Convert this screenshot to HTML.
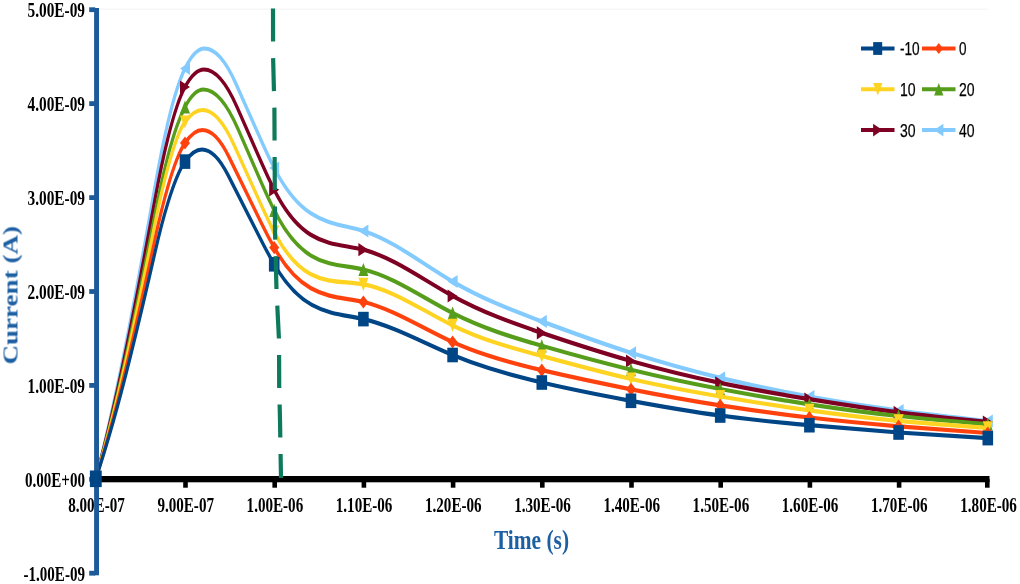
<!DOCTYPE html>
<html><head><meta charset="utf-8"><title>Current vs Time</title>
<style>html,body{margin:0;padding:0;background:#fff}svg{display:block}text{font-family:"Liberation Serif",serif;font-weight:bold}.lg{font-family:"Liberation Sans",sans-serif;font-weight:normal}</style></head><body>
<svg width="1020" height="584" viewBox="0 0 1020 584">
<defs><filter id="b" x="-2%" y="-2%" width="104%" height="104%"><feGaussianBlur stdDeviation="0.55"/></filter></defs>
<rect width="1020" height="584" fill="#fff"/>
<g filter="url(#b)">
<line x1="99" y1="9.2" x2="988" y2="9.2" stroke="#f5f5f5" stroke-width="1.2"/>
<rect x="96" y="476" width="893.5" height="6.3" fill="#000"/>
<rect x="183.2" y="479" width="4.6" height="8.7" fill="#000"/>
<rect x="272.4" y="479" width="4.6" height="8.7" fill="#000"/>
<rect x="361.6" y="479" width="4.6" height="8.7" fill="#000"/>
<rect x="450.8" y="479" width="4.6" height="8.7" fill="#000"/>
<rect x="540.0" y="479" width="4.6" height="8.7" fill="#000"/>
<rect x="629.2" y="479" width="4.6" height="8.7" fill="#000"/>
<rect x="718.4" y="479" width="4.6" height="8.7" fill="#000"/>
<rect x="807.6" y="479" width="4.6" height="8.7" fill="#000"/>
<rect x="896.8" y="479" width="4.6" height="8.7" fill="#000"/>
<rect x="985.0" y="479" width="4.6" height="8.7" fill="#000"/>
<g><path transform="scale(1,1.34)" d="M95.80,357.31Q112.90,307.77 130.00,241.14Q142.50,192.43 155.00,139.20Q161.50,111.52 168.00,91.09Q172.50,76.94 177.00,66.51Q181.00,57.24 185.00,51.12Q194.75,36.19 204.50,36.19Q220.25,36.19 236.00,62.60L262.00,106.20Q268.10,116.42 274.20,125.37C303.93,169.00 333.67,165.38 363.40,172.39C393.13,179.40 422.87,197.03 452.60,210.07C482.33,223.12 512.07,231.59 541.80,239.85C571.53,248.11 601.27,256.17 631.00,263.28C660.73,270.39 690.47,276.55 720.20,281.94C749.93,287.33 779.67,291.95 809.40,295.97C839.13,299.99 868.87,303.41 898.60,306.34C928.33,309.28 958.07,311.73 987.80,314.18" fill="none" stroke="#83caff" stroke-width="3.15" stroke-linejoin="round"/><polygon points="100.8,472.2 90.8,478.8 100.8,485.4" fill="#83caff"/><polygon points="190.0,61.9 180.0,68.5 190.0,75.1" fill="#83caff"/><polygon points="279.2,161.4 269.2,168.0 279.2,174.6" fill="#83caff"/><polygon points="368.4,224.4 358.4,231.0 368.4,237.6" fill="#83caff"/><polygon points="457.6,274.9 447.6,281.5 457.6,288.1" fill="#83caff"/><polygon points="546.8,314.8 536.8,321.4 546.8,328.0" fill="#83caff"/><polygon points="636.0,346.2 626.0,352.8 636.0,359.4" fill="#83caff"/><polygon points="725.2,371.2 715.2,377.8 725.2,384.4" fill="#83caff"/><polygon points="814.4,390.0 804.4,396.6 814.4,403.2" fill="#83caff"/><polygon points="903.6,403.9 893.6,410.5 903.6,417.1" fill="#83caff"/><polygon points="992.8,414.4 982.8,421.0 992.8,427.6" fill="#83caff"/></g>
<g><path transform="scale(1,1.34)" d="M95.80,357.31Q112.90,309.95 130.00,246.25Q142.50,199.68 155.00,148.78Q161.50,122.32 168.00,102.78Q172.50,89.26 177.00,79.29Q181.00,70.42 185.00,64.93Q194.50,51.87 204.00,51.87Q220.50,51.87 237.00,79.85L262.00,122.25Q268.10,132.59 274.20,141.64C303.93,185.76 333.67,180.61 363.40,186.34C393.13,192.07 422.87,208.68 452.60,220.90C482.33,233.11 512.07,240.93 541.80,248.43C571.53,255.93 601.27,263.11 631.00,269.40C660.73,275.70 690.47,281.10 720.20,285.75C749.93,290.39 779.67,294.27 809.40,297.91C839.13,301.55 868.87,304.96 898.60,307.76C928.33,310.56 958.07,312.74 987.80,314.93" fill="none" stroke="#7e0021" stroke-width="3.15" stroke-linejoin="round"/><polygon points="90.8,472.2 100.8,478.8 90.8,485.4" fill="#7e0021"/><polygon points="180.0,80.4 190.0,87.0 180.0,93.6" fill="#7e0021"/><polygon points="269.2,183.2 279.2,189.8 269.2,196.4" fill="#7e0021"/><polygon points="358.4,243.1 368.4,249.7 358.4,256.3" fill="#7e0021"/><polygon points="447.6,289.4 457.6,296.0 447.6,302.6" fill="#7e0021"/><polygon points="536.8,326.3 546.8,332.9 536.8,339.5" fill="#7e0021"/><polygon points="626.0,354.4 636.0,361.0 626.0,367.6" fill="#7e0021"/><polygon points="715.2,376.3 725.2,382.9 715.2,389.5" fill="#7e0021"/><polygon points="804.4,392.6 814.4,399.2 804.4,405.8" fill="#7e0021"/><polygon points="893.6,405.8 903.6,412.4 893.6,419.0" fill="#7e0021"/><polygon points="982.8,415.4 992.8,422.0 982.8,428.6" fill="#7e0021"/></g>
<g><path transform="scale(1,1.34)" d="M95.80,357.31Q112.90,312.44 130.00,252.08Q142.50,207.96 155.00,159.74Q161.50,134.66 168.00,116.16Q172.50,103.34 177.00,93.90Q181.00,85.50 185.00,79.85Q194.25,66.79 203.50,66.79Q220.75,66.79 238.00,96.31L262.00,137.37Q268.10,147.81 274.20,156.94C303.93,201.46 333.67,195.92 363.40,201.12C393.13,206.32 422.87,222.25 452.60,233.58C482.33,244.92 512.07,251.66 541.80,258.06C571.53,264.46 601.27,270.50 631.00,275.90C660.73,281.29 690.47,286.04 720.20,290.30C749.93,294.56 779.67,298.34 809.40,301.72C839.13,305.09 868.87,308.05 898.60,310.45C928.33,312.84 958.07,314.67 987.80,316.49" fill="none" stroke="#579d1c" stroke-width="3.15" stroke-linejoin="round"/><polygon points="90.8,485.4 100.8,485.4 95.8,472.2" fill="#579d1c"/><polygon points="180.0,113.6 190.0,113.6 185.0,100.4" fill="#579d1c"/><polygon points="269.2,216.9 279.2,216.9 274.2,203.7" fill="#579d1c"/><polygon points="358.4,276.1 368.4,276.1 363.4,262.9" fill="#579d1c"/><polygon points="447.6,319.6 457.6,319.6 452.6,306.4" fill="#579d1c"/><polygon points="536.8,352.4 546.8,352.4 541.8,339.2" fill="#579d1c"/><polygon points="626.0,376.3 636.0,376.3 631.0,363.1" fill="#579d1c"/><polygon points="715.2,395.6 725.2,395.6 720.2,382.4" fill="#579d1c"/><polygon points="804.4,410.9 814.4,410.9 809.4,397.7" fill="#579d1c"/><polygon points="893.6,422.6 903.6,422.6 898.6,409.4" fill="#579d1c"/><polygon points="982.8,430.7 992.8,430.7 987.8,417.5" fill="#579d1c"/></g>
<g><path transform="scale(1,1.34)" d="M95.80,357.31Q112.90,314.03 130.00,255.81Q142.50,213.26 155.00,166.75Q161.50,142.56 168.00,124.71Q172.50,112.35 177.00,103.24Q181.00,95.14 185.00,91.04Q193.75,82.09 202.50,82.09Q218.25,82.09 234.00,108.07L262.00,154.27Q268.10,164.33 274.20,173.13C303.93,216.05 333.67,208.19 363.40,212.16C393.13,216.14 422.87,231.95 452.60,242.84C482.33,253.72 512.07,259.67 541.80,265.67C571.53,271.67 601.27,277.73 631.00,282.84C660.73,287.94 690.47,292.10 720.20,295.90C749.93,299.69 779.67,303.12 809.40,306.19C839.13,309.27 868.87,311.98 898.60,314.10C928.33,316.23 958.07,317.78 987.80,319.33" fill="none" stroke="#ffd320" stroke-width="3.15" stroke-linejoin="round"/><polygon points="90.8,472.2 100.8,472.2 95.8,485.4" fill="#ffd320"/><polygon points="180.0,115.4 190.0,115.4 185.0,128.6" fill="#ffd320"/><polygon points="269.2,225.4 279.2,225.4 274.2,238.6" fill="#ffd320"/><polygon points="358.4,277.7 368.4,277.7 363.4,290.9" fill="#ffd320"/><polygon points="447.6,318.8 457.6,318.8 452.6,332.0" fill="#ffd320"/><polygon points="536.8,349.4 546.8,349.4 541.8,362.6" fill="#ffd320"/><polygon points="626.0,372.4 636.0,372.4 631.0,385.6" fill="#ffd320"/><polygon points="715.2,389.9 725.2,389.9 720.2,403.1" fill="#ffd320"/><polygon points="804.4,403.7 814.4,403.7 809.4,416.9" fill="#ffd320"/><polygon points="893.6,414.3 903.6,414.3 898.6,427.5" fill="#ffd320"/><polygon points="982.8,421.3 992.8,421.3 987.8,434.5" fill="#ffd320"/></g>
<g><path transform="scale(1,1.34)" d="M95.80,357.31Q112.90,316.67 130.00,262.01Q142.50,222.06 155.00,178.39Q161.50,155.68 168.00,138.92Q172.50,127.31 177.00,118.76Q181.00,111.15 185.00,106.72Q193.75,97.01 202.50,97.01Q215.75,97.01 229.00,117.17L262.00,167.38Q268.10,176.66 274.20,184.78C303.93,224.36 333.67,220.19 363.40,225.37C393.13,230.56 422.87,245.10 452.60,255.22C482.33,265.35 512.07,271.07 541.80,276.27C571.53,281.46 601.27,286.14 631.00,290.52C660.73,294.91 690.47,299.01 720.20,302.54C749.93,306.06 779.67,309.01 809.40,311.57C839.13,314.12 868.87,316.27 898.60,318.13C928.33,320.00 958.07,321.57 987.80,323.13" fill="none" stroke="#ff420e" stroke-width="3.15" stroke-linejoin="round"/><polygon points="95.8,472.2 100.8,478.8 95.8,485.4 90.8,478.8" fill="#ff420e"/><polygon points="185.0,136.4 190.0,143.0 185.0,149.6 180.0,143.0" fill="#ff420e"/><polygon points="274.2,241.0 279.2,247.6 274.2,254.2 269.2,247.6" fill="#ff420e"/><polygon points="363.4,295.4 368.4,302.0 363.4,308.6 358.4,302.0" fill="#ff420e"/><polygon points="452.6,335.4 457.6,342.0 452.6,348.6 447.6,342.0" fill="#ff420e"/><polygon points="541.8,363.6 546.8,370.2 541.8,376.8 536.8,370.2" fill="#ff420e"/><polygon points="631.0,382.7 636.0,389.3 631.0,395.9 626.0,389.3" fill="#ff420e"/><polygon points="720.2,398.8 725.2,405.4 720.2,412.0 715.2,405.4" fill="#ff420e"/><polygon points="809.4,410.9 814.4,417.5 809.4,424.1 804.4,417.5" fill="#ff420e"/><polygon points="898.6,419.7 903.6,426.3 898.6,432.9 893.6,426.3" fill="#ff420e"/><polygon points="987.8,426.4 992.8,433.0 987.8,439.6 982.8,433.0" fill="#ff420e"/></g>
<g><path transform="scale(1,1.34)" d="M95.80,357.31Q112.90,318.93 130.00,267.31Q142.50,229.58 155.00,188.34Q161.50,166.89 168.00,151.07Q172.50,140.11 177.00,132.03Q181.00,124.85 185.00,120.60Q193.50,111.57 202.00,111.57Q215.00,111.57 228.00,130.63L262.00,180.47Q268.10,189.41 274.20,197.24C303.93,235.38 333.67,233.06 363.40,238.13C393.13,243.21 422.87,255.67 452.60,264.93C482.33,274.18 512.07,280.24 541.80,285.45C571.53,290.65 601.27,295.00 631.00,299.10C660.73,303.20 690.47,307.05 720.20,310.07C749.93,313.10 779.67,315.29 809.40,317.31C839.13,319.34 868.87,321.19 898.60,322.76C928.33,324.34 958.07,325.64 987.80,326.94" fill="none" stroke="#004586" stroke-width="3.15" stroke-linejoin="round"/><rect x="90.5" y="471.5" width="10.6" height="14.6" fill="#004586"/><rect x="179.7" y="154.3" width="10.6" height="14.6" fill="#004586"/><rect x="268.9" y="257.0" width="10.6" height="14.6" fill="#004586"/><rect x="358.1" y="311.8" width="10.6" height="14.6" fill="#004586"/><rect x="447.3" y="347.7" width="10.6" height="14.6" fill="#004586"/><rect x="536.5" y="375.2" width="10.6" height="14.6" fill="#004586"/><rect x="625.7" y="393.5" width="10.6" height="14.6" fill="#004586"/><rect x="714.9" y="408.2" width="10.6" height="14.6" fill="#004586"/><rect x="804.1" y="417.9" width="10.6" height="14.6" fill="#004586"/><rect x="893.3" y="425.2" width="10.6" height="14.6" fill="#004586"/><rect x="982.5" y="430.8" width="10.6" height="14.6" fill="#004586"/></g>
<path d="M273,8.6 L273.1,58 L274.4,108 L275,230 L276.5,290 L279,340 L279.2,386 L280,420 L281,478" fill="none" stroke="#0e7a5b" stroke-width="4.2" stroke-dasharray="33 16.5"/>
<text x="85" y="16.5" font-size="20" text-anchor="end" textLength="57.5" lengthAdjust="spacingAndGlyphs" fill="#000">5.00E-09</text>
<text x="85" y="110.5" font-size="20" text-anchor="end" textLength="57.5" lengthAdjust="spacingAndGlyphs" fill="#000">4.00E-09</text>
<text x="85" y="204.5" font-size="20" text-anchor="end" textLength="57.5" lengthAdjust="spacingAndGlyphs" fill="#000">3.00E-09</text>
<text x="85" y="298.5" font-size="20" text-anchor="end" textLength="57.5" lengthAdjust="spacingAndGlyphs" fill="#000">2.00E-09</text>
<text x="85" y="392.5" font-size="20" text-anchor="end" textLength="57.5" lengthAdjust="spacingAndGlyphs" fill="#000">1.00E-09</text>
<text x="85" y="486.5" font-size="20" text-anchor="end" textLength="60" lengthAdjust="spacingAndGlyphs" fill="#000">0.00E+00</text>
<text x="85" y="580.5" font-size="20" text-anchor="end" textLength="61.5" lengthAdjust="spacingAndGlyphs" fill="#000">-1.00E-09</text>
<text x="68.2" y="512" font-size="20" textLength="56.6" lengthAdjust="spacingAndGlyphs" fill="#000">8.00E-07</text>
<text x="157.4" y="512" font-size="20" textLength="56.6" lengthAdjust="spacingAndGlyphs" fill="#000">9.00E-07</text>
<text x="246.6" y="512" font-size="20" textLength="56.6" lengthAdjust="spacingAndGlyphs" fill="#000">1.00E-06</text>
<text x="335.8" y="512" font-size="20" textLength="56.6" lengthAdjust="spacingAndGlyphs" fill="#000">1.10E-06</text>
<text x="425.0" y="512" font-size="20" textLength="56.6" lengthAdjust="spacingAndGlyphs" fill="#000">1.20E-06</text>
<text x="514.2" y="512" font-size="20" textLength="56.6" lengthAdjust="spacingAndGlyphs" fill="#000">1.30E-06</text>
<text x="603.4" y="512" font-size="20" textLength="56.6" lengthAdjust="spacingAndGlyphs" fill="#000">1.40E-06</text>
<text x="692.6" y="512" font-size="20" textLength="56.6" lengthAdjust="spacingAndGlyphs" fill="#000">1.50E-06</text>
<text x="781.8" y="512" font-size="20" textLength="56.6" lengthAdjust="spacingAndGlyphs" fill="#000">1.60E-06</text>
<text x="871.0" y="512" font-size="20" textLength="56.6" lengthAdjust="spacingAndGlyphs" fill="#000">1.70E-06</text>
<text x="960.3" y="512" font-size="20" textLength="56.6" lengthAdjust="spacingAndGlyphs" fill="#000">1.80E-06</text>
<rect x="94.1" y="8" width="4.9" height="567.3" fill="#1f5a9a"/>
<rect x="89.2" y="7.3" width="6" height="4.8" fill="#1f5a9a"/>
<rect x="89.2" y="101.2" width="6" height="4.8" fill="#1f5a9a"/>
<rect x="89.2" y="195.2" width="6" height="4.8" fill="#1f5a9a"/>
<rect x="89.2" y="289.1" width="6" height="4.8" fill="#1f5a9a"/>
<rect x="89.2" y="383.0" width="6" height="4.8" fill="#1f5a9a"/>
<rect x="89.2" y="476.9" width="6" height="4.8" fill="#1f5a9a"/>
<rect x="89.2" y="570.8" width="6" height="4.8" fill="#1f5a9a"/>
<rect x="89.9" y="470.5" width="11.8" height="16.6" fill="#004586"/>
<text x="494" y="549" font-size="27.5" textLength="75" lengthAdjust="spacingAndGlyphs" fill="#1f5fa3">Time (s)</text>
<text transform="translate(17.5,364.5) rotate(-90)" font-size="20" textLength="138.5" lengthAdjust="spacingAndGlyphs" fill="#1f5fa3">Current (A)</text>
<line x1="861" y1="48.5" x2="894.5" y2="48.5" stroke="#004586" stroke-width="4"/>
<rect x="873.2" y="42.1" width="9.0" height="12.8" fill="#004586"/>
<text class="lg" stroke="#000" stroke-width="0.25" x="900" y="55.1" font-size="18" textLength="19.7" lengthAdjust="spacingAndGlyphs" fill="#000">-10</text>
<line x1="922" y1="48.5" x2="955.5" y2="48.5" stroke="#ff420e" stroke-width="4"/>
<polygon points="938.8,43.1 943.0,48.5 938.8,53.9 934.5,48.5" fill="#ff420e"/>
<text class="lg" stroke="#000" stroke-width="0.25" x="959" y="55.1" font-size="18" textLength="7.5" lengthAdjust="spacingAndGlyphs" fill="#000">0</text>
<line x1="861" y1="89.3" x2="894.5" y2="89.3" stroke="#ffd320" stroke-width="4"/>
<polygon points="873.1,83.0 882.4,83.0 877.8,95.6" fill="#ffd320"/>
<text class="lg" stroke="#000" stroke-width="0.25" x="900" y="95.9" font-size="18" textLength="15.6" lengthAdjust="spacingAndGlyphs" fill="#000">10</text>
<line x1="922" y1="89.3" x2="955.5" y2="89.3" stroke="#579d1c" stroke-width="4"/>
<polygon points="934.1,95.6 943.4,95.6 938.8,83.0" fill="#579d1c"/>
<text class="lg" stroke="#000" stroke-width="0.25" x="959" y="95.9" font-size="18" textLength="15.6" lengthAdjust="spacingAndGlyphs" fill="#000">20</text>
<line x1="861" y1="130.1" x2="894.5" y2="130.1" stroke="#7e0021" stroke-width="4"/>
<polygon points="873.1,123.8 882.4,130.1 873.1,136.4" fill="#7e0021"/>
<text class="lg" stroke="#000" stroke-width="0.25" x="900" y="136.7" font-size="18" textLength="15.6" lengthAdjust="spacingAndGlyphs" fill="#000">30</text>
<line x1="922" y1="130.1" x2="955.5" y2="130.1" stroke="#83caff" stroke-width="4"/>
<polygon points="943.4,123.8 934.1,130.1 943.4,136.4" fill="#83caff"/>
<text class="lg" stroke="#000" stroke-width="0.25" x="959" y="136.7" font-size="18" textLength="15.6" lengthAdjust="spacingAndGlyphs" fill="#000">40</text>
</g></svg></body></html>
